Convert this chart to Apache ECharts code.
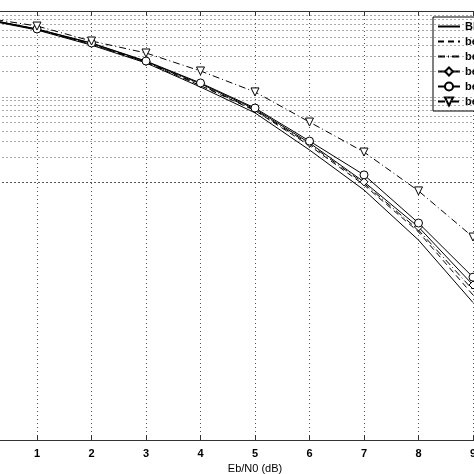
<!DOCTYPE html>
<html><head><meta charset="utf-8">
<script src="https://cdn.jsdelivr.net/npm/echarts@6/dist/echarts.min.js"></script>
<style>html,body{margin:0;padding:0;background:#fff}#main{width:474px;height:474px}</style>
</head><body><div id="main"></div>
<script>
// Eb/N0 points (dB)
var snr = [0, 1, 2, 3, 4, 5, 6, 7, 8, 9];
var berTheory = [0.80, 0.60, 0.40, 0.248, 0.130, 0.065, 0.024, 0.0082, 0.00214, 0.00040];
var berDash = [0.81, 0.61, 0.41, 0.252, 0.135, 0.069, 0.027, 0.0094, 0.00266, 0.00049];
var berDashDot = [0.81, 0.61, 0.41, 0.255, 0.138, 0.070, 0.028, 0.0098, 0.0028, 0.00056];
var berDiamond = [0.82, 0.615, 0.42, 0.258, 0.142, 0.072, 0.029, 0.0102, 0.00304, 0.00064];
var berCircle = [0.82, 0.617, 0.424, 0.261, 0.145, 0.074, 0.0305, 0.0123, 0.00338, 0.00079];
var berTriangle = [0.84, 0.668, 0.447, 0.324, 0.200, 0.114, 0.0508, 0.0227, 0.0080, 0.00232];
var names = ['BER theory', 'ber 1', 'ber 2', 'ber 3', 'ber 4', 'ber 5'];
var decades = [1e-5, 1e-4, 1e-3, 1e-2, 1e-1];

var myChart = echarts.init(document.getElementById('main'));

function pairs(v) {
	return snr.map(function (x, i) { return [x, v[i]]; });
}
// dotted log grid lines (1..9 per decade)
var gridLines = [];
decades.forEach(function (d) {
	for (var k = 1; k <= 9; k++) gridLines.push({ yAxis: d * k });
});

function line(name, data, type, symbol, rotate) {
	return {
		name: name,
		type: 'line',
		data: pairs(data),
		symbol: symbol || 'none',
		symbolSize: 8,
		symbolRotate: rotate || 0,
		showAllSymbol: true,
		itemStyle: { color: '#fff', borderColor: '#000', borderWidth: 1 },
		lineStyle: { color: '#000', width: 1, type: type },
		z: 5
	};
}

var series = [
	line(names[0], berTheory, 'solid'),
	line(names[1], berDash, [6, 4]),
	line(names[2], berDashDot, [7, 3, 1, 3]),
	line(names[3], berDiamond, 'solid', 'diamond'),
	line(names[4], berCircle, 'solid', 'circle'),
	line(names[5], berTriangle, [7, 3, 1, 3], 'triangle', 180)
];
series[0].markLine = {
	symbol: 'none', silent: true, label: { show: false },
	lineStyle: { color: '#555', type: [1, 3], width: 1 },
	data: gridLines
};

var noMark = { color: 'transparent', borderWidth: 0 };
var option = {
	animation: false,
	grid: { left: -17.5, right: -53.5, top: 11, bottom: 34, outerBoundsMode: 'none', containLabel: false },
	legend: {
		left: 433, top: 17, orient: 'vertical',
		data: [
			{ name: names[0], itemStyle: noMark },
			{ name: names[1], itemStyle: noMark },
			{ name: names[2], itemStyle: noMark },
			names[3], names[4], names[5]
		],
		itemWidth: 22, itemHeight: 10, itemGap: 4,
		backgroundColor: '#fff', borderColor: '#000', borderWidth: 1,
		padding: [4, 4],
		textStyle: { fontSize: 11, fontWeight: 'bold', color: '#000', fontFamily: 'Liberation Sans' }
	},
	xAxis: [{
		type: 'value', min: 0, max: 10, interval: 1,
		name: 'Eb/N0 (dB)', nameLocation: 'middle', nameGap: 22,
		nameTextStyle: { fontSize: 11, color: '#000', fontFamily: 'Liberation Sans' },
		axisLine: { lineStyle: { color: '#333', width: 1 } },
		axisTick: { inside: true, length: 5, lineStyle: { color: '#333' } },
		axisLabel: { fontSize: 11, fontWeight: 'bold', color: '#000', margin: 8, fontFamily: 'Liberation Sans' },
		splitLine: { show: true, lineStyle: { color: '#555', type: [1, 3] } }
	}, {
		type: 'value', min: 0, max: 10, interval: 1, position: 'top',
		axisLine: { lineStyle: { color: '#333', width: 1 } },
		axisTick: { inside: true, length: 5, lineStyle: { color: '#333' } },
		axisLabel: { show: false }, splitLine: { show: false }
	}],
	yAxis: {
		type: 'log', min: 1e-5, max: 1, logBase: 10,
		axisLine: { show: true, lineStyle: { color: '#333' } },
		axisLabel: { show: false },
		splitLine: { show: false }
	},
	series: series
};
myChart.setOption(option);
</script>
</body></html>
